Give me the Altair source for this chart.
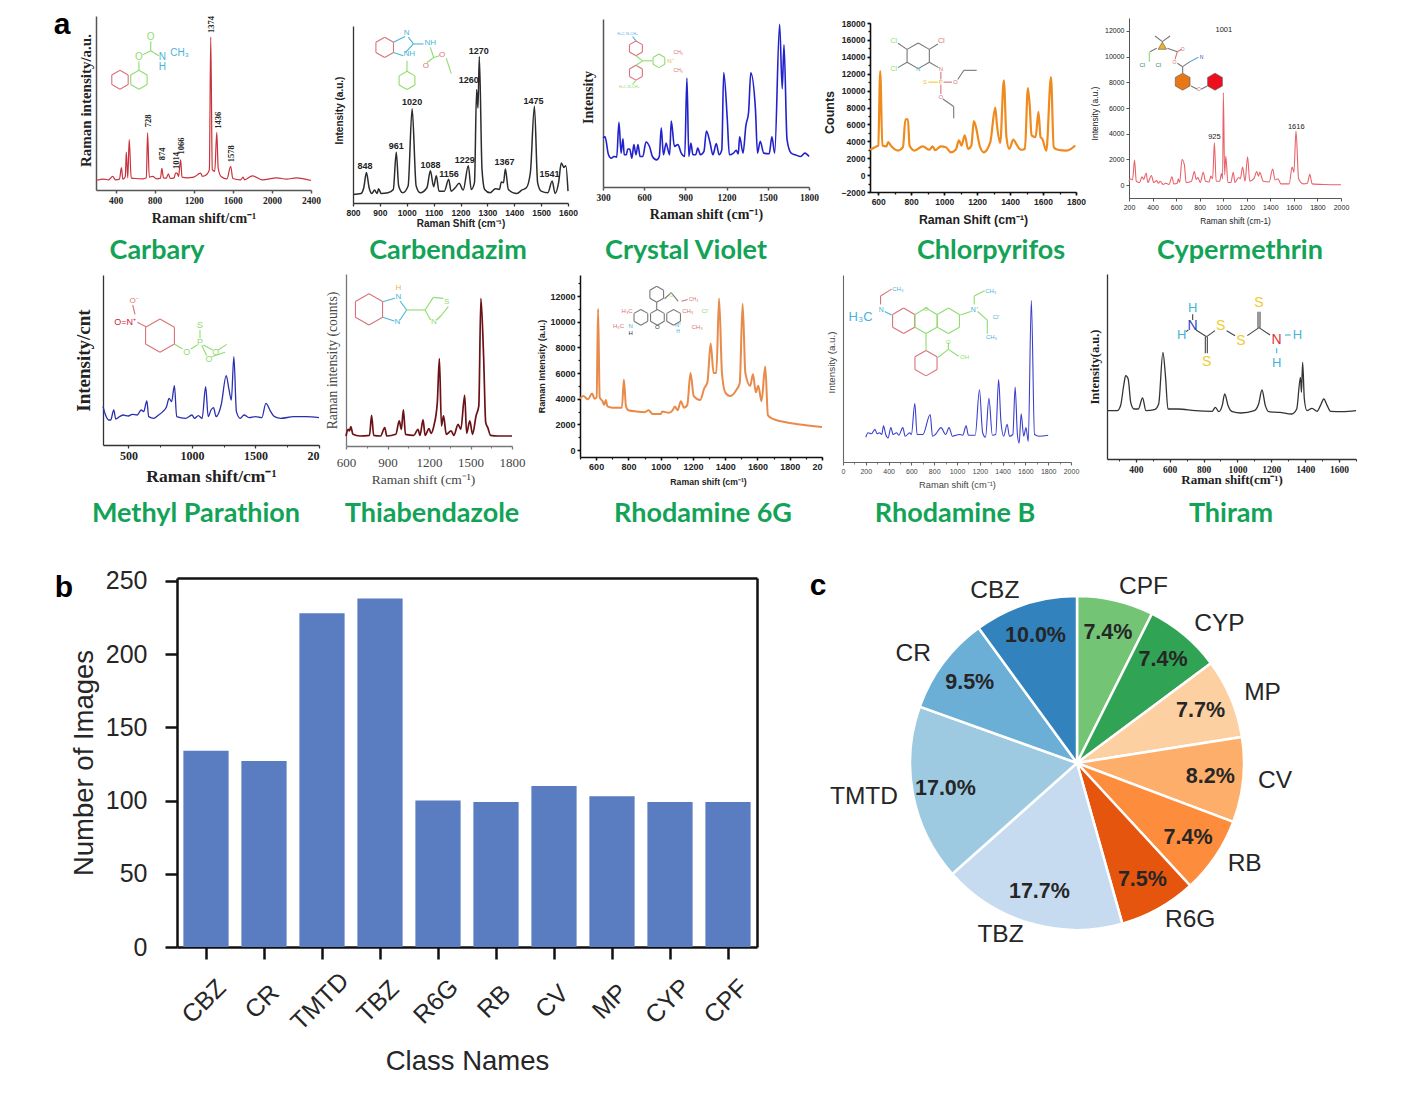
import math
import altair as alt
import pandas as pd

W, H = 1403, 1098
SERIF, SANS = "Liberation Serif", "Liberation Sans"

# ---------- spectra ----------
carbary_x = [200,280,330,370,400,440,460,475,500,510,525,540,560,600,680,715,728,745,780,820,860,874,890,920,940,960,1000,1014,1030,1045,1066,1080,1130,1200,1270,1290,1340,1360,1374,1390,1415,1436,1450,1480,1540,1578,1600,1680,1705,1720,1800,1900,2050,2150,2250,2400]
carbary_y = [28,32,30,40,30,32,66,32,40,112,36,149,36,34,33,36,169,38,40,33,35,64,36,35,48,34,36,50,50,40,89,38,36,38,50,40,48,60,452,60,55,170,65,40,33,70,34,30,38,30,42,30,36,32,36,28]
carbary_lx = [728,874,1020,1066,1374,1445,1578]
carbary_ly = [204,107,87,130,489,206,107]
carbary_lt = ["728","874","1014","1066","1374","1436","1578"]

carbendazim_x = [800,830,840,850,860,870,880,890,895,905,930,950,961,970,985,1005,1020,1035,1050,1075,1088,1100,1110,1120,1140,1156,1165,1180,1195,1210,1229,1240,1252,1260,1265,1270,1280,1290,1310,1330,1345,1352,1360,1367,1378,1410,1428,1445,1460,1475,1487,1500,1525,1541,1552,1565,1575,1585,1592,1600]
carbendazim_y = [25,28,45,90,45,28,38,28,42,28,30,40,150,50,30,50,278,50,30,45,95,48,80,35,35,70,35,45,58,38,110,40,60,335,280,432,100,40,30,42,40,62,60,100,40,28,38,45,90,285,60,35,30,65,28,60,118,105,110,35]
carbendazim_lx = [845,961,1020,1088,1157,1216,1231,1268,1364,1472,1531]
carbendazim_ly = [109,167,297,112,87,127,362,448,122,302,85]
carbendazim_lt = ["848","961","1020","1088","1156","1229","1260","1270","1367","1475","1541"]

crystal_x = [300,315,340,360,380,400,416,432,445,455,470,480,495,510,525,540,555,570,590,613,640,660,690,710,724,740,760,770,785,797,820,845,870,895,911,925,940,955,975,990,1010,1035,1053,1080,1100,1125,1145,1165,1179,1205,1220,1250,1270,1285,1295,1320,1340,1360,1376,1410,1425,1445,1470,1510,1530,1550,1586,1605,1618,1640,1670,1700,1740,1770,1800]
crystal_y = [145,148,95,85,90,88,191,100,142,95,95,112,112,85,125,95,125,90,90,133,118,90,80,90,175,95,130,115,95,195,120,125,100,90,322,90,130,95,95,115,95,105,165,130,95,128,95,110,338,200,95,100,108,98,148,100,180,220,337,230,100,135,100,98,148,100,480,290,420,140,100,95,90,100,90]

chlor_x = [550,590,600,612,625,650,660,680,720,750,765,780,790,820,870,910,930,945,980,1010,1040,1070,1090,1105,1125,1145,1165,1180,1195,1215,1240,1280,1310,1320,1340,1362,1378,1395,1420,1440,1465,1490,1508,1520,1530,1555,1572,1585,1595,1620,1648,1665,1690,1740,1770,1795]
chlor_y = [3000,3400,3500,12300,3500,3400,3900,3400,2900,3300,6600,6600,3500,2900,3400,3000,3400,2950,3400,3300,2700,3000,4100,3500,4700,3100,3500,6400,5500,3500,2700,3900,8000,6000,3800,11200,4500,3100,4200,3600,3000,3100,10300,8000,4700,4500,7500,4500,4300,2900,11600,3300,3000,2900,3100,3500]

cyper_x = [200,210,230,247,262,290,310,325,345,360,390,410,435,450,465,490,510,540,565,580,610,618,630,650,670,685,730,755,770,785,805,830,850,880,895,910,925,940,970,985,995,1001,1012,1022,1040,1065,1085,1100,1130,1145,1165,1185,1207,1225,1260,1285,1300,1310,1340,1390,1420,1440,1465,1490,1560,1585,1600,1618,1640,1680,1715,1735,1755,1850,2000]
cyper_y = [300,500,400,1950,300,200,650,450,950,200,750,200,350,150,300,50,150,50,650,100,150,500,200,2000,1600,200,300,1050,450,600,200,1000,300,250,700,500,3300,300,300,900,500,7200,800,2250,200,200,1000,200,600,500,1400,300,2200,300,500,1050,700,1000,300,250,1250,400,500,100,100,1400,1000,4200,500,100,150,850,100,50,30]
cyper_lx = [1005,925,1620]
cyper_ly = [12100,3760,4535]
cyper_lt = ["1001","925","1616"]

mp_x = [300,320,345,360,385,400,430,460,480,500,530,570,600,620,645,660,700,730,770,800,820,840,862,880,950,1000,1020,1050,1080,1108,1128,1150,1170,1190,1230,1270,1290,1310,1330,1350,1380,1410,1450,1500,1550,1582,1620,1650,1700,1800,1900,2000]
mp_y = [115,90,75,75,105,78,85,90,88,87,92,90,105,100,132,85,80,88,100,115,140,130,178,85,80,90,80,88,80,175,85,105,112,85,120,208,170,135,265,100,80,90,82,85,82,125,100,85,80,85,85,82]

tbz_x = [600,615,625,635,650,700,770,785,800,850,880,895,960,985,1000,1015,1030,1090,1120,1135,1157,1172,1200,1215,1235,1260,1275,1290,1305,1325,1360,1380,1410,1430,1458,1472,1495,1515,1540,1560,1575,1595,1610,1625,1645,1700,1800]
tbz_y = [30,50,45,58,35,30,32,92,32,30,55,30,35,75,50,108,35,32,50,32,78,32,52,38,60,130,262,60,90,35,45,32,65,50,152,38,75,35,90,120,442,265,70,55,32,30,30]

r6g_x = [500,520,550,575,590,603,612,622,640,650,660,670,700,740,760,772,785,800,850,900,925,950,1000,1010,1050,1075,1088,1105,1125,1145,1165,1185,1205,1245,1270,1290,1310,1328,1345,1362,1380,1400,1430,1470,1490,1508,1525,1555,1572,1590,1605,1625,1648,1665,1700,1760,1850,2000]
r6g_y = [4000,4200,3950,4400,4000,4100,11000,4100,3800,3500,3900,3400,3300,3300,3300,5500,3400,3100,3000,2950,3100,2800,2800,3000,2900,3100,3400,3100,3800,3300,3500,6000,4200,3900,4800,5300,8300,6000,6000,11800,6000,4500,4200,4700,5200,11400,6000,5000,5900,4500,5000,3800,6500,2700,2400,2200,2000,1800]

rb_x = [200,220,250,280,300,320,340,355,375,395,420,440,470,490,525,545,585,600,630,650,680,700,765,785,810,860,900,930,960,1020,1050,1080,1100,1160,1197,1225,1250,1280,1310,1340,1365,1385,1410,1440,1460,1490,1510,1530,1545,1563,1585,1605,1625,1652,1680,1720,1800]
rb_y = [72,85,82,95,82,85,80,105,80,70,100,80,85,78,100,75,85,80,170,80,80,80,138,75,80,100,80,100,75,80,78,105,78,78,210,85,72,185,78,80,240,120,75,110,75,80,218,80,55,140,75,100,60,470,80,75,78]

thiram_x = [230,290,310,330,340,355,370,390,415,440,460,510,535,560,575,590,650,750,850,870,890,910,925,945,970,1020,1100,1125,1145,1165,1185,1250,1320,1350,1372,1378,1385,1395,1410,1440,1470,1490,1510,1530,1550,1620,1700]
thiram_y = [145,145,160,225,250,240,170,150,150,183,145,148,165,320,250,150,150,145,143,155,142,160,195,160,142,138,145,165,207,160,142,140,135,150,245,200,290,180,145,152,143,160,180,160,143,142,145]

# ---------- bars and pie ----------
bar_names = ["CBZ","CR","TMTD","TBZ","R6G","RB","CV","MP","CYP","CPF"]
bar_counts = [134,127,228,238,100,99,110,103,99,99]
pie_names = ["CPF","CYP","MP","CV","RB","R6G","TBZ","TMTD","CR","CBZ"]
pie_counts = [99,99,103,110,99,100,238,228,127,134]
pie_pct = ["7.4%","7.4%","7.7%","8.2%","7.4%","7.5%","17.7%","17.0%","9.5%","10.0%"]
pie_colors = ["#74c476","#31a354","#fdd0a2","#fdae6b","#fd8d3c","#e6550d","#c6dbef","#9ecae1","#6baed6","#3182bd"]
pie_name_radius = [189,200,198,199,195,193,187,215,197,191]
pie_name_dx = [23,14,3,0,6,19,-24,-2,-6,-23]
pie_name_dy = [8,14,7,-2,-8,-11,-7,-7,9,10]

# ---------- captions ----------
captions = ["Carbary","Carbendazim","Crystal Violet","Chlorpyrifos","Cypermethrin","Methyl Parathion","Thiabendazole","Rhodamine 6G","Rhodamine B","Thiram"]
caption_x = [157,448,686,991,1240,196,432,703,955,1231]
caption_y = [251,251,251,251,251,514,514,514,514,514]

# ---------- molecule sketches ----------
RED, GRN, BLU, GRY, ORG, YEL, CYA = "#d9727a", "#8fdc6f", "#4ab3d8", "#777777", "#e8b44a", "#eecb2e", "#43b5d8"
bond_rows, atom_rows, fill_rows = [], [], []

def mol(ox, oy, s, rings=(), bonds=(), atoms=()):
    for cx, cy, r, c in rings:
        pts = [(cx + r * math.sin(math.radians(a)), cy - r * math.cos(math.radians(a))) for a in range(0, 360, 60)]
        for i in range(6):
            a, b = pts[i], pts[(i + 1) % 6]
            bond_rows.append(dict(x=ox + a[0] / s - 8, y=oy + a[1] / s - 8, x2=ox + b[0] / s - 8, y2=oy + b[1] / s - 8, c=c))
    for x1, y1, x2, y2, c in bonds:
        bond_rows.append(dict(x=ox + x1 / s - 8, y=oy + y1 / s - 8, x2=ox + x2 / s - 8, y2=oy + y2 / s - 8, c=c))
    for t, x, y, c, z in atoms:
        atom_rows.append(dict(t=t, x=ox + x / s - 8, y=oy + y / s - 8, c=c, z=z))

mol(50, 0, 2.958,
    rings=[(207,236,28,RED),(263,236,28,GRN)],
    bonds=[(263,208,263,182,GRN),(275,162,298,150,GRN),(298,150,298,122,GRN),(298,150,322,165,GRN)],
    atoms=[("O",263,170,GRN,10),("O",298,110,GRN,10),("N",332,168,BLU,10),("H",332,198,BLU,10),("CH₃",383,157,BLU,10)])
mol(50, 0, 2.958,
    rings=[(990,140,30,RED),(1056,238,27,GRN)],
    bonds=[(1016,125,1050,108,BLU),(1016,155,1045,165,BLU),(1052,155,1075,130,BLU),(1060,110,1075,130,BLU),(1075,130,1105,130,BLU),
           (1056,180,1056,210,GRN),(1125,140,1135,170,GRN),(1135,170,1115,185,GRN),(1135,170,1152,165,GRN),(1172,172,1187,218,GRN)],
    atoms=[("N",1055,98,BLU,8),("NH",1063,160,BLU,8),("NH",1125,127,BLU,8),("O",1112,195,RED,8),("O",1160,162,RED,8)])
mol(570, 0, 2.958,
    rings=[(195,143,22,RED),(195,215,22,RED),(263,180,20,GRN)],
    bonds=[(195,165,215,180,GRN),(195,193,215,180,GRN),(215,180,243,180,GRN),(195,121,185,108,BLU),(195,237,185,250,GRN)],
    atoms=[("H₃C-N-CH₃",170,100,BLU,4),("N⁺",297,180,ORG,6),("CH₃",320,155,RED,5),("CH₃",320,207,RED,5),("H₃C-N-CH₃",175,257,GRN,4)])
mol(570, 0, 2.958,
    rings=[(1030,165,38,GRY)],
    bonds=[(1063,184,1090,200,GRY),(1063,146,1088,130,GRY),(997,146,970,128,GRY),(997,184,970,200,GRY),(1097,212,1097,235,RED),(1060,243,1088,243,YEL),
           (1105,243,1130,243,RED),(1097,250,1097,278,RED),(1147,235,1165,208,GRY),(1165,208,1203,208,GRY),(1103,293,1135,315,GRY),(1135,315,1135,350,GRY)],
    atoms=[("Cl",958,122,GRN,7),("Cl",1098,122,RED,7),("Cl",958,205,GRN,7),("N",1030,205,BLU,6),("N",1097,205,RED,6),("P",1097,243,ORG,6),("S",1050,243,YEL,6),("O",1140,243,RED,6),("O",1097,287,RED,6)])
mol(1090, 0, 3,
    bonds=[(195,108,217,125,GRY),(240,108,217,125,GRY),(180,155,200,145,GRY),(178,155,178,185,GRN),(232,145,262,155,GRY),(262,155,255,178,RED),(262,155,275,148,RED),
           (262,190,278,200,GRY),(278,200,300,185,GRY),(300,185,325,172,BLU),(278,200,278,220,GRY),(303,258,322,268,GRY),(333,268,352,258,GRY)],
    atoms=[("Cl",157,195,"#2e8b57",6),("Cl",205,195,"#2e8b57",6),("O",278,148,RED,5),("O",253,185,RED,5),("N",335,170,"#3a4fb0",5),("O",327,268,RED,5)])
HEX = "M0,-1L0.866,-0.5L0.866,0.5L0,1L-0.866,0.5L-0.866,-0.5Z"
fill_rows += [dict(x=1090+217/3-8, y=137/3-8, c="#eeb422", z=70, s="triangle-up"),
              dict(x=1090+278/3-8, y=245/3-8, c="#e87817", z=290, s=HEX),
              dict(x=1090+375/3-8, y=245/3-8, c="#ee0f1e", z=290, s=HEX)]
mol(60, 265, 3,
    rings=[(300,212,50,RED)],
    bonds=[(258,185,232,172,RED),(218,120,225,148,RED),(343,237,368,252,GRN),(392,252,412,240,GRN),(420,220,420,195,GRN),
           (430,240,458,255,GRN),(425,240,440,272,GRN),(475,255,500,238,GRN),(455,275,495,262,GRN)],
    atoms=[("O⁻",222,108,RED,8),("O=N⁺",195,170,"#cc2233",9),("O",380,260,GRN,9),("P",420,232,GRN,9),("S",420,180,GRN,9),("O",467,262,GRN,9),("O",447,283,GRN,9)])
mol(60, 265, 3,
    rings=[(927,133,47,RED)],
    bonds=[(968,110,1005,100,BLU),(968,157,1003,168,BLU),(1020,108,1040,135,BLU),(1020,165,1040,135,BLU),(1040,135,1095,135,GRN),
           (1095,135,1120,97,GRN),(1120,97,1150,100,GRN),(1165,125,1145,150,GRN),(1145,150,1130,165,GRN),(1095,135,1112,165,GRN)],
    atoms=[("H",1015,70,ORG,8),("N",1015,97,BLU,8),("N",1012,172,BLU,8),("S",1160,112,GRN,8),("N",1122,172,GRN,8)])
mol(530, 265, 2.904,
    rings=[(368,85,23,GRY),(322,152,23,GRY),(370,152,23,GRY),(417,152,23,GRY)],
    bonds=[(368,108,368,130,GRY),(391,98,410,80,GRY),(410,80,430,105,GRY),(440,105,458,100,RED)],
    atoms=[("H₃C",282,133,RED,6),("CH₃",458,133,RED,6),("H₃C",257,177,RED,6),("N",292,178,BLU,6),("H",292,198,"#333333",6),("N⁺",430,175,BLU,6),("H",430,192,BLU,5),("CH₃",485,180,RED,6),("Cl⁻",510,135,GRN,6),("O",370,180,"#333333",6),("O",410,88,GRN,5),("CH₃",475,100,RED,5)])
mol(530, 265, 2.904,
    rings=[(1085,162,37,RED),(1150,162,37,GRN),(1215,162,37,GRN),(1150,285,37,RED)],
    bonds=[(1050,145,1030,135,BLU),(1018,115,1018,90,RED),(1018,90,1050,70,RED),(1250,145,1280,135,GRN),(1290,115,1290,90,GRN),(1290,90,1320,75,GRN),
           (1300,135,1328,160,GRN),(1328,160,1328,200,GRN),(1150,200,1150,248,GRN),(1185,268,1215,245,GRN),(1215,245,1245,265,GRN),(1215,245,1215,225,GRN)],
    atoms=[("H₃C",960,150,BLU,13),("N",1020,130,BLU,7),("CH₃",1068,70,BLU,6),("N⁺",1290,130,BLU,7),("CH₃",1338,75,BLU,6),("CH₃",1340,210,BLU,6),("Cl⁻",1355,152,BLU,6),("O",1150,127,GRN,6),("O",1215,225,GRN,6),("OH",1262,268,GRN,6)])
mol(1070, 265, 3,
    bonds=[(378,195,410,215,"#444444"),(410,215,435,197,"#444444"),(406,215,406,265,"#444444"),(412,215,412,265,"#444444"),(470,197,495,212,"#444444"),
           (532,212,567,188,"#444444"),(564,188,564,140,"#444444"),(570,188,570,140,"#444444"),(567,188,600,210,"#444444"),(645,210,662,210,CYA),(620,250,620,265,CYA),(368,148,368,165,"#444444"),(348,200,355,195,"#444444")],
    atoms=[("H",368,128,CYA,13),("N",368,183,"#2b45c0",14),("H",335,210,CYA,13),("S",410,290,YEL,14),("S",452,183,YEL,14),("S",513,228,YEL,14),("S",567,113,YEL,14),("N",620,225,"#e0333b",14),("H",682,210,CYA,13),("H",620,295,CYA,13)])

FX = alt.Scale(domain=[0, W], range=[0, W])
FY = alt.Scale(domain=[0, H], range=[0, H])
layers = []

def spectrum(xs, ys, px0, px1, py0, py1, xdom, ydom, color, width, xticks, xtitle, ytitle, font, lab, ttl, lw="normal", tw="normal",
             ttlpad=4, ytpad=8, yticks=None, yfmt="d", axc="#333333", txc="#222222", clip20=False, ylab=None, ytitle_size=None, ytitle_y=None, xtitle_x=None, labpad=2,
             lx=None, ly=None, lt=None, lsize=9, langle=0, lfont=None, lweight="bold", axw=1.3, minor_x=None, minor_y=None):
    sx = alt.Scale(domain=xdom, range=[px0 - 8, px1 - 8], nice=False, zero=False)
    sy = alt.Scale(domain=ydom, range=[py1 - 8, py0 - 8], nice=False, zero=False)
    xa = dict(orient="bottom", offset=py1 - 8 - H, values=xticks, format="d", title=xtitle, grid=False, labelFont=font, labelFontSize=lab, labelFontWeight=lw,
              labelColor=txc, titleFont=font, titleFontSize=ttl, titleFontWeight=tw, titleColor=txc, titlePadding=ttlpad, domainColor=axc, tickColor=axc,
              domainWidth=axw, tickWidth=axw, tickSize=3, labelPadding=labpad, labelOverlap=False, labelFlush=False)
    if clip20:
        xa["labelExpr"] = "datum.value==2000?'20':datum.label"
        xa["labelAlign"] = alt.expr("datum.value==2000?'right':'center'")
    if xtitle_x is not None:
        xa["titleX"] = xtitle_x - 8
    ya = dict(orient="left", offset=-(px0 - 8), title=ytitle, grid=False, titleFont=font, titleFontSize=ytitle_size or ttl, titleFontWeight=tw, titleColor=txc,
              titlePadding=ytpad, domainColor=axc, domainWidth=axw, tickColor=axc, tickWidth=axw, labelFont=font, labelFontWeight=lw, labelColor=txc, labelFontSize=ylab or lab, labelOverlap=False)
    if ytitle_y is not None:
        ya["titleY"] = ytitle_y - 8
    if yticks is None:
        ya.update(labels=False, ticks=False, tickCount=0)
    else:
        ya.update(values=yticks, format=yfmt, tickSize=3, labelPadding=2)
    df = pd.DataFrame({"x": xs, "y": ys})
    layers.append(alt.Chart(df).mark_line(color=color, strokeWidth=width, interpolate="monotone").encode(
        x=alt.X("x:Q", scale=sx, axis=alt.Axis(**xa)), y=alt.Y("y:Q", scale=sy, axis=alt.Axis(**ya))))
    if minor_x or minor_y:
        mx = alt.Axis(orient="bottom", offset=py1 - 8 - H, values=minor_x, title=None, labels=False, domain=False, grid=False, tickSize=2, tickWidth=max(axw - 0.3, 0.6), tickColor=axc) if minor_x else None
        my = alt.Axis(orient="left", offset=-(px0 - 8), values=minor_y, title=None, labels=False, domain=False, grid=False, tickSize=2, tickWidth=max(axw - 0.3, 0.6), tickColor=axc) if minor_y else None
        layers.append(alt.Chart(df).mark_line(opacity=0).encode(x=alt.X("x:Q", scale=sx, axis=mx), y=alt.Y("y:Q", scale=sy, axis=my)))
    if lx:
        ld = pd.DataFrame({"x": lx, "y": ly, "t": lt})
        layers.append(alt.Chart(ld).mark_text(fontSize=lsize, font=lfont or font, fontWeight=lweight, color="#222222", angle=langle).encode(
            x=alt.X("x:Q", scale=sx, axis=None), y=alt.Y("y:Q", scale=sy, axis=None), text="t:N"))

spectrum(carbary_x, carbary_y, 96, 311, 16, 190, [200,2400], [0,514], "#c8323a", 1.2, [400,800,1200,1600,2000,2400], "Raman shift/cm⁻¹", "Raman intensity/a.u.", SERIF, 9.5, 14, lw="bold", tw="bold", ttlpad=7, ytpad=3, ytitle_size=15, ytitle_y=100,
         lx=carbary_lx, ly=carbary_ly, lt=carbary_lt, lsize=8.5, langle=270, axc="#555555", axw=1.5)
spectrum(carbendazim_x, carbendazim_y, 353, 568, 26, 203, [800,1600], [0,522], "#2c2c2c", 1.5, [800,900,1000,1100,1200,1300,1400,1500,1600], "Raman Shift (cm⁻¹)", "Intensity (a.u.)", SANS, 8.5, 10, lw="bold", tw="bold", ttlpad=2, ytpad=9, ytitle_y=110,
         lx=carbendazim_lx, ly=carbendazim_ly, lt=carbendazim_lt, lsize=9)
spectrum(crystal_x, crystal_y, 603, 809, 19, 187, [300,1800], [0,496], "#2222cc", 1.6, [300,600,900,1200,1500,1800], "Raman shift (cm⁻¹)", "Intensity", SERIF, 9.5, 14, lw="bold", tw="bold", ttlpad=6, ytpad=8, ytitle_y=97, axc="#555555", axw=1.5)
spectrum(chlor_x, chlor_y, 870, 1076, 23, 192, [550,1800], [-2000,18000], "#ee8a1e", 2.2, [600,800,1000,1200,1400,1600,1800], "Raman Shift (cm⁻¹)", "Counts", SANS, 8.5, 12.3, lw="bold", tw="bold", ttlpad=8, ytpad=5, ytitle_size=12.5, ytitle_y=112,
         yticks=[-2000,0,2000,4000,6000,8000,10000,12000,14000,16000,18000], axc="#111111", axw=1.6, minor_x=list(range(600,1801,100)), minor_y=list(range(-2000,18001,1000)))
spectrum(cyper_x, cyper_y, 1129, 1341, 18, 198, [200,2000], [-1000,13000], "#e8626a", 1.1, [200,400,600,800,1000,1200,1400,1600,1800,2000], "Raman shift (cm-1)", "Intensity (a.u.)", SANS, 7, 8.3, ttlpad=6, ytpad=5, ytitle_size=8.5, ytitle_y=113,
         yticks=[0,2000,4000,6000,8000,10000,12000], axc="#444444", axw=0.9, lx=cyper_lx, ly=cyper_ly, lt=cyper_lt, lsize=7.5, lweight="normal")
spectrum(mp_x, mp_y, 103, 319, 275, 445, [300,2000], [0,510], "#2a2fb0", 1.3, [500,1000,1500,2000], "Raman shift/cm⁻¹", "Intensity/cnt", SERIF, 12, 17.5, lw="bold", tw="bold", ttlpad=6, ytpad=10, ytitle_size=19, clip20=True, axc="#333333", minor_x=[750,1250,1750])
spectrum(tbz_x, tbz_y, 346, 512, 274, 446, [600,1800], [0,515], "#6b1218", 1.7, [600,900,1200,1500,1800], "Raman shift (cm⁻¹)", "Raman intensity (counts)", SERIF, 13, 13.5, ttlpad=3, ytpad=7, ytitle_size=13.7, xtitle_x=423, labpad=7, axc="#777777", txc="#444444", minor_x=[750,1050,1350,1650])
spectrum(r6g_x, r6g_y, 580, 822, 275, 457, [500,2000], [-545,13640], "#e88a4a", 2.0, [600,800,1000,1200,1400,1600,1800,2000], "Raman shift (cm⁻¹)", "Raman Intensity (a.u.)", SANS, 9, 8.7, lw="bold", tw="bold", ttlpad=6, ytpad=3, ytitle_size=9, xtitle_x=708,
         yticks=[0,2000,4000,6000,8000,10000,12000], axc="#111111", axw=1.5, clip20=True, minor_x=list(range(500,2001,100)), minor_y=list(range(0,13001,1000)))
spectrum(rb_x, rb_y, 843, 1071, 275, 462, [0,2000], [0,544], "#3a3ecc", 1.1, list(range(0,2001,200)), "Raman shift (cm⁻¹)", "Intensity (a.u.)", SANS, 7, 9.3, ttlpad=6, ytpad=7, ytitle_size=9.8, ytitle_y=362, axc="#666666", txc="#444444", axw=1.1, minor_x=list(range(100,2000,200)))
spectrum(thiram_x, thiram_y, 1107, 1356, 274, 459, [230,1700], [0,555], "#333333", 1.3, [400,600,800,1000,1200,1400,1600], "Raman shift(cm⁻¹)", "Intensity(a.u.)", SERIF, 9.5, 13, lw="bold", tw="bold", ttlpad=0, ytpad=6, ytitle_size=12.5, minor_x=list(range(300,1701,100)))

# molecule layers
shared_x = lambda f: alt.X(f, scale=FX, axis=None)
shared_y = lambda f: alt.Y(f, scale=FY, axis=None)
layers.append(alt.Chart(pd.DataFrame(bond_rows)).mark_rule(strokeWidth=1.1).encode(
    x=shared_x("x:Q"), y=shared_y("y:Q"), x2="x2:Q", y2="y2:Q", color=alt.Color("c:N", scale=None)))
fdf = pd.DataFrame(fill_rows)
for _, r in fdf.iterrows():
    layers.append(alt.Chart(pd.DataFrame([r.to_dict()])).mark_point(filled=True, opacity=1, shape=r["s"], stroke="#555555", strokeWidth=0.6).encode(
        x=shared_x("x:Q"), y=shared_y("y:Q"), color=alt.Color("c:N", scale=None), size=alt.Size("z:Q", scale=None)))
layers.append(alt.Chart(pd.DataFrame(atom_rows)).mark_text(font=SANS, baseline="middle").encode(
    x=shared_x("x:Q"), y=shared_y("y:Q"), text="t:N", color=alt.Color("c:N", scale=None), size=alt.Size("z:Q", scale=None)))

# captions and letters
layers.append(alt.Chart(pd.DataFrame({"t": captions, "x": [v - 8 for v in caption_x], "y": [v - 8 for v in caption_y]})).mark_text(
    font="Lato", fontWeight="bold", fontSize=27, color="#13a357", baseline="middle").encode(x=shared_x("x:Q"), y=shared_y("y:Q"), text="t:N"))
layers.append(alt.Chart(pd.DataFrame({"t": ["a","b","c"], "x": [54,56,810], "y": [17,580,578]})).mark_text(
    font=SANS, fontWeight="bold", fontSize=30, color="#000000", baseline="middle").encode(x=shared_x("x:Q"), y=shared_y("y:Q"), text="t:N"))

# panel b
bx = alt.Scale(domain=bar_names, range=[177 - 8, 757 - 8], paddingInner=0.22, paddingOuter=0.11)
by = alt.Scale(domain=[0, 252], range=[947 - 8, 578 - 8], nice=False)
bdf = pd.DataFrame({"n": bar_names, "v": bar_counts})
layers.append(alt.Chart(bdf).mark_bar(color="#5a7cc0").encode(
    x=alt.X("n:N", sort=None, scale=bx, axis=alt.Axis(orient="bottom", offset=947 - 8 - H, title="Class Names", labelAngle=-45, labelAlign="center", labelBaseline="middle", labelOffset=-2,
            labelPadding=42, tickSize=12, tickWidth=2.5, domainWidth=2.5, domainColor="#111111", tickColor="#111111", labelFont=SANS, labelFontSize=25, labelColor="#262626",
            titleFont=SANS, titleFontSize=27.5, titleFontWeight="normal", titleColor="#262626", titlePadding=13, grid=False, labelOverlap=False)),
    y=alt.Y("v:Q", scale=by, axis=alt.Axis(orient="left", offset=-(177 - 8), title="Number of Images", values=[0,50,100,150,200,250], tickSize=12, tickWidth=2.5, domainWidth=2.5,
            domainColor="#111111", tickColor="#111111", labelFont=SANS, labelFontSize=25, labelColor="#262626", titleFont=SANS, titleFontSize=27.5, titleFontWeight="normal",
            titleColor="#262626", titlePadding=7, grid=False, labelPadding=18, labelOverlap=False))))
layers.append(alt.Chart(bdf).mark_bar(opacity=0).encode(
    x=alt.X("n:N", sort=None, scale=bx, axis=alt.Axis(orient="top", offset=-(578 - 8), title=None, labels=False, ticks=False, domainWidth=2.5, domainColor="#111111", grid=False)),
    y=alt.Y("v:Q", scale=by, axis=alt.Axis(orient="right", offset=(757 - 8) - W, title=None, labels=False, ticks=False, domainWidth=2.5, domainColor="#111111", grid=False))))

# panel c
cx, cy = 1077 - 8, 763 - 8
pdf = pd.DataFrame({"n": pie_names, "v": pie_counts, "p": pie_pct, "c": pie_colors, "o": list(range(10))})
theta = alt.Theta("v:Q", stack=True)
layers.append(alt.Chart(pdf).mark_arc(outerRadius=167, stroke="#ffffff", strokeWidth=2.5).encode(
    theta=theta, order="o:Q", color=alt.Color("c:N", scale=None), x=alt.value(cx), y=alt.value(cy)))
layers.append(alt.Chart(pdf).mark_text(radius=134, font=SANS, fontWeight="bold", fontSize=21.5, color="#262626", baseline="middle").encode(
    theta=theta, order="o:Q", text="p:N", x=alt.value(cx), y=alt.value(cy)))
for i, rad in enumerate(pie_name_radius):
    layers.append(alt.Chart(pdf).transform_calculate(lab=f"datum.o=={i}?datum.n:''").mark_text(
        radius=rad, dx=pie_name_dx[i], dy=pie_name_dy[i], font=SANS, fontSize=24.5, color="#262626", baseline="middle").encode(
        theta=theta, order="o:Q", text="lab:N", x=alt.value(cx), y=alt.value(cy)))

chart = alt.layer(*layers).resolve_scale(x="independent", y="independent", theta="independent", color="independent", size="independent").resolve_axis(
    x="independent", y="independent").properties(width=W, height=H, padding=0, autosize=alt.AutoSizeParams(type="none")).configure_view(stroke=None)
chart.save("out.html", embed_options={"renderer": "svg", "actions": False})
